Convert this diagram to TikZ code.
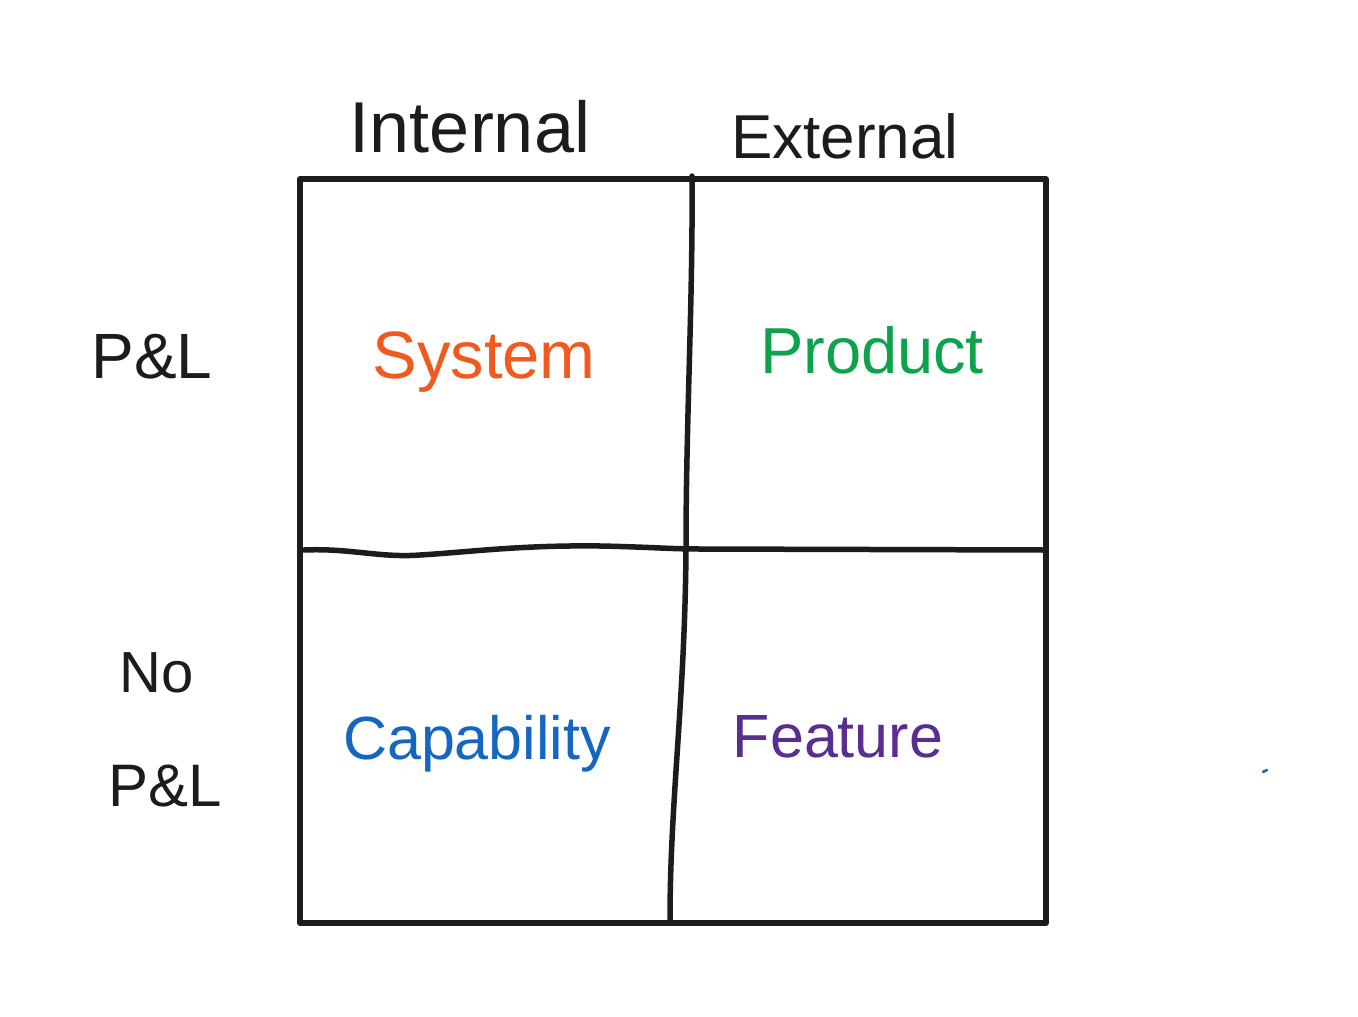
\documentclass[tikz,border=0pt]{standalone}
\usepackage{fontspec}
\setmainfont{Liberation Sans}
\definecolor{sysorange}{RGB}{240,90,30}
\definecolor{prodgreen}{RGB}{12,163,74}
\definecolor{capblue}{RGB}{20,102,192}
\definecolor{featpurple}{RGB}{90,45,145}
\definecolor{ink}{RGB}{28,28,28}
\begin{document}
\begin{tikzpicture}[x=1pt,y=-1pt,
  gridline/.style={draw=ink,line width=5.5pt,line cap=round,line join=round},
  hdr/.style={inner sep=0pt,anchor=center,text=ink},
  quad/.style={inner sep=0pt,anchor=center}]
\useasboundingbox (0,0) rectangle (1358,1017);
\fill[white] (0,0) rectangle (1358,1017);
% outer box
\draw[gridline] (300,179) -- (1046,179) -- (1046,923) -- (300,923) -- cycle;
% vertical divider
\draw[gridline] (692,176) .. controls (693,300) and (686,420) .. (686,548)
  .. controls (685,700) and (670,800) .. (670,920);
% horizontal divider
\draw[gridline] (304,550) .. controls (350,548) and (380,558) .. (420,555)
  .. controls (470,552) and (520,545) .. (600,546)
  .. controls (650,547) and (670,549) .. (700,549)
  -- (1044,550);
% headers
\node[hdr,font=\fontsize{72}{72}\selectfont] (internal) at (470,127) {Internal};
\node[hdr,font=\fontsize{62}{62}\selectfont] (external) at (845,136) {External};
\node[hdr,font=\fontsize{64}{64}\selectfont] (pl1) at (152,357) {P\&L};
\node[hdr,font=\fontsize{58}{58}\selectfont] (no) at (157,673) {No};
\node[hdr,font=\fontsize{60}{60}\selectfont] (pl2) at (165,786) {P\&L};
% quadrant labels
\node[quad,text=sysorange,font=\fontsize{67}{67}\selectfont] (system) at (484,362) {System};
\node[quad,text=prodgreen,font=\fontsize{65}{65}\selectfont] (product) at (872,350) {Product};
\node[quad,text=capblue,font=\fontsize{61}{61}\selectfont] (capability) at (477,744) {Capability};
\node[quad,text=featpurple,font=\fontsize{61}{61}\selectfont] (feature) at (838,737) {Feature};
% stray mark
\draw[capblue,line width=2.5pt,line cap=round] (1263,772) -- (1267,770);
\end{tikzpicture}
\end{document}
